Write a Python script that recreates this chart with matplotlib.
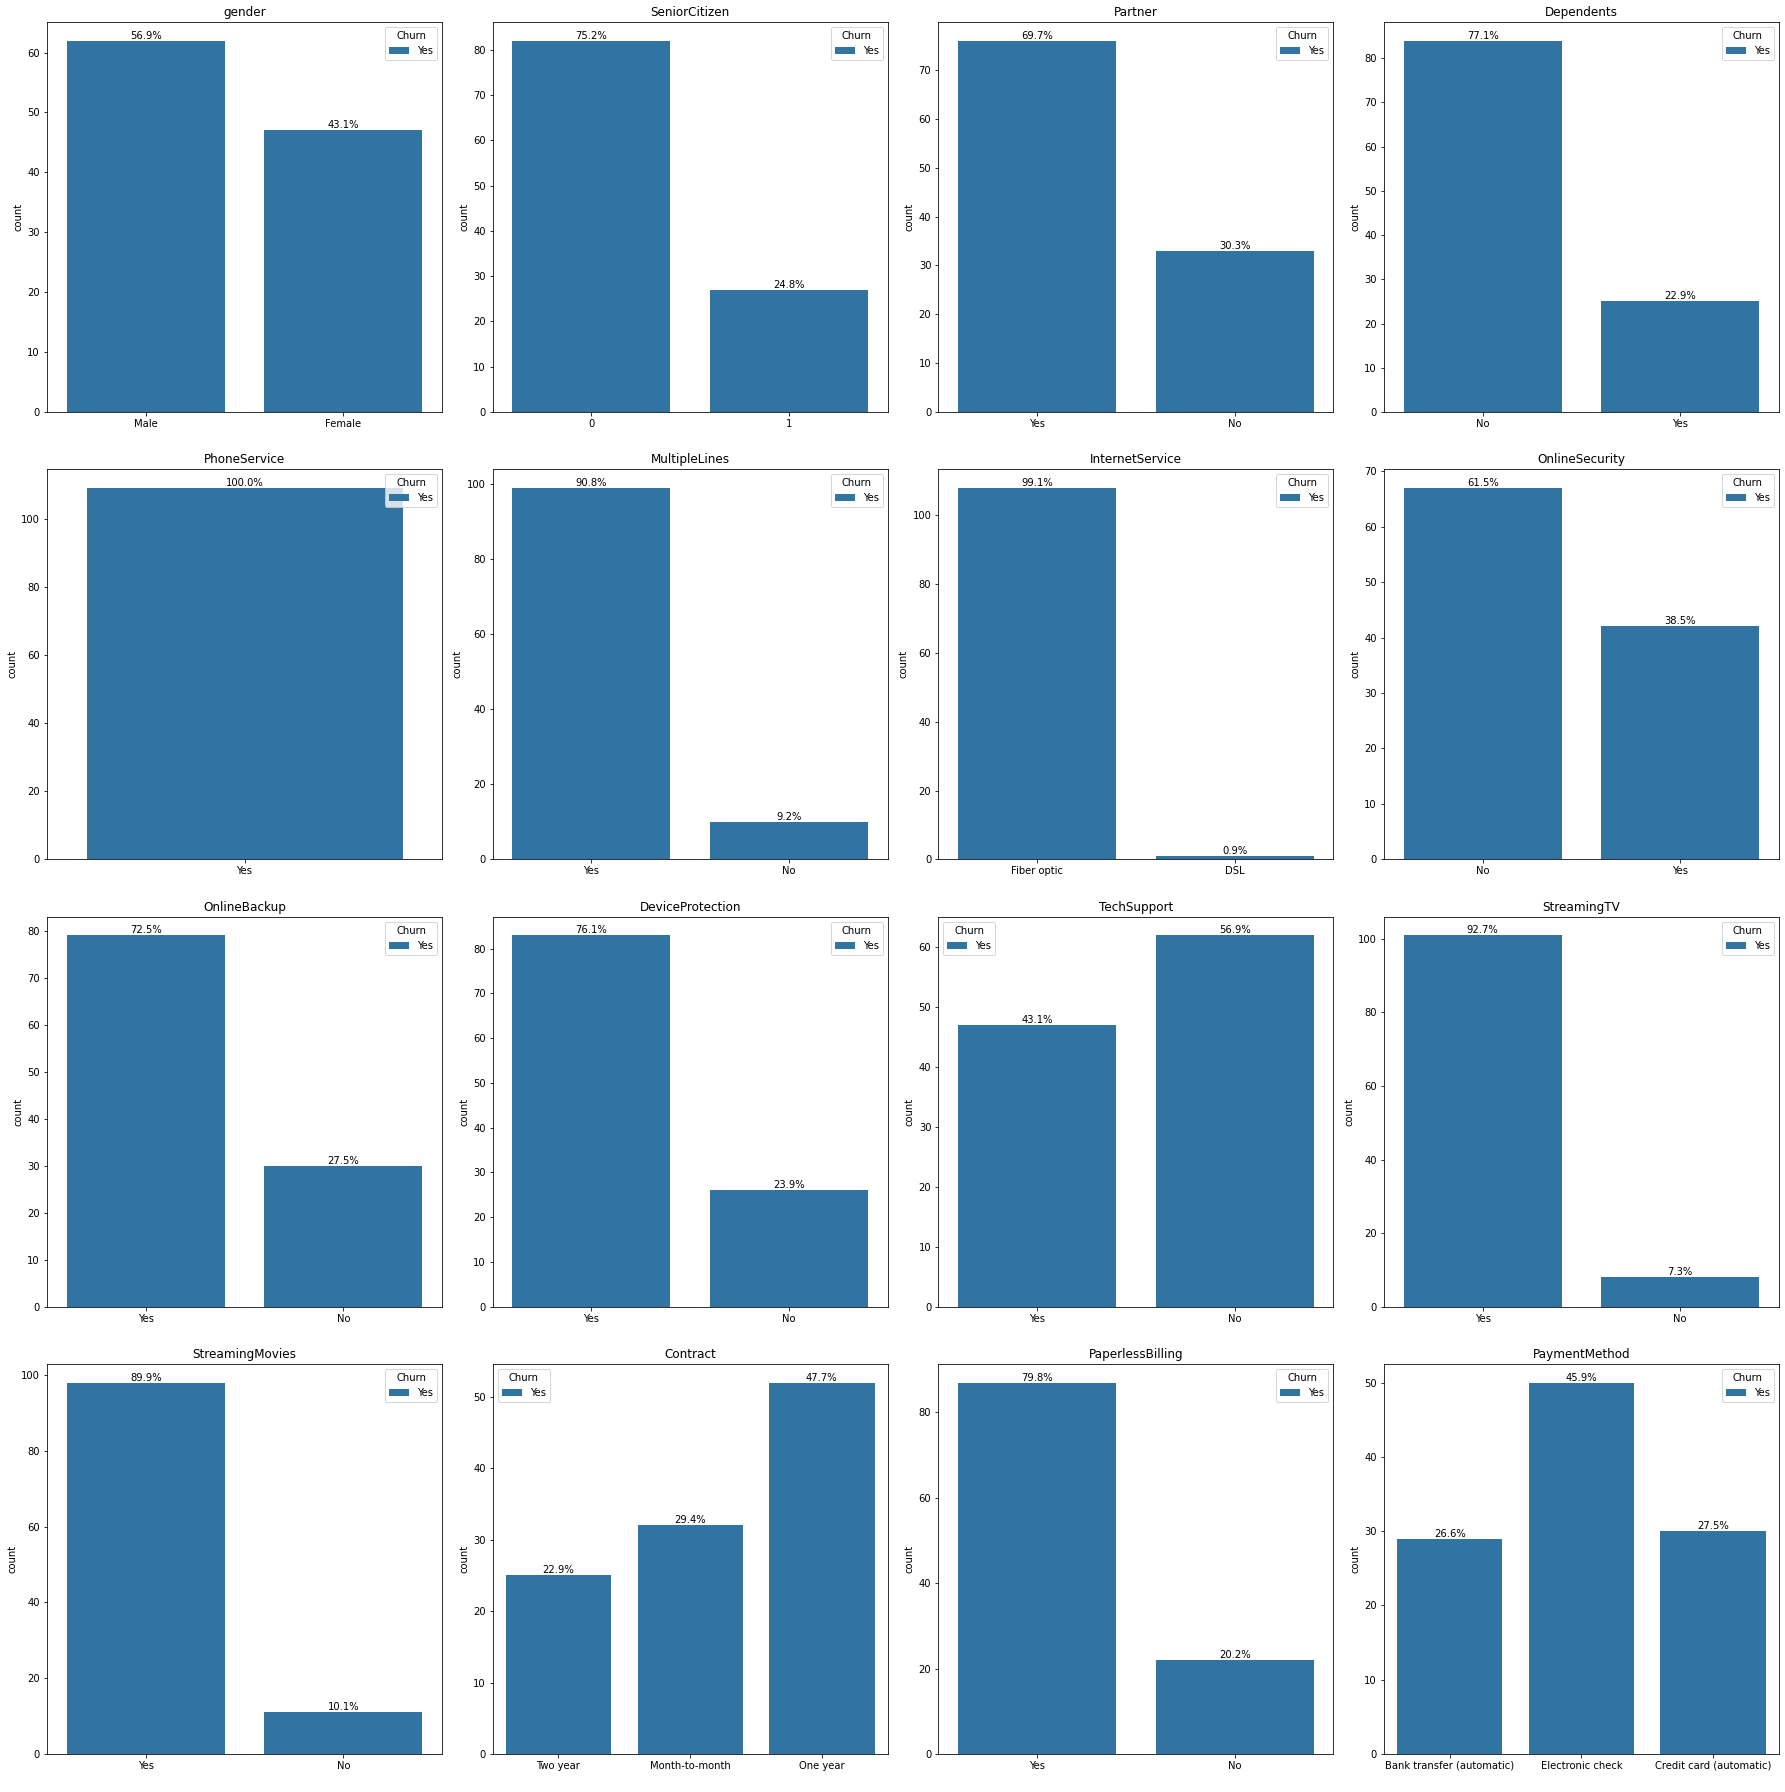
import matplotlib
matplotlib.use("Agg")
import matplotlib.pyplot as plt

titles = ["gender", "SeniorCitizen", "Partner", "Dependents",
          "PhoneService", "MultipleLines", "InternetService", "OnlineSecurity",
          "OnlineBackup", "DeviceProtection", "TechSupport", "StreamingTV",
          "StreamingMovies", "Contract", "PaperlessBilling", "PaymentMethod"]

gender_cats = ["Male", "Female"]
gender_counts = [62, 47]
senior_cats = ["0", "1"]
senior_counts = [82, 27]
partner_cats = ["Yes", "No"]
partner_counts = [76, 33]
dependents_cats = ["No", "Yes"]
dependents_counts = [84, 25]
phone_cats = ["Yes"]
phone_counts = [109]
multilines_cats = ["Yes", "No"]
multilines_counts = [99, 10]
internet_cats = ["Fiber optic", "DSL"]
internet_counts = [108, 1]
security_cats = ["No", "Yes"]
security_counts = [67, 42]
backup_cats = ["Yes", "No"]
backup_counts = [79, 30]
device_cats = ["Yes", "No"]
device_counts = [83, 26]
tech_cats = ["Yes", "No"]
tech_counts = [47, 62]
tv_cats = ["Yes", "No"]
tv_counts = [101, 8]
movies_cats = ["Yes", "No"]
movies_counts = [98, 11]
contract_cats = ["Two year", "Month-to-month", "One year"]
contract_counts = [25, 32, 52]
paperless_cats = ["Yes", "No"]
paperless_counts = [87, 22]
payment_cats = ["Bank transfer (automatic)", "Electronic check", "Credit card (automatic)"]
payment_counts = [29, 50, 30]

all_cats = [gender_cats, senior_cats, partner_cats, dependents_cats,
            phone_cats, multilines_cats, internet_cats, security_cats,
            backup_cats, device_cats, tech_cats, tv_cats,
            movies_cats, contract_cats, paperless_cats, payment_cats]
all_counts = [gender_counts, senior_counts, partner_counts, dependents_counts,
              phone_counts, multilines_counts, internet_counts, security_counts,
              backup_counts, device_counts, tech_counts, tv_counts,
              movies_counts, contract_counts, paperless_counts, payment_counts]

BAR = "#3274a1"

W, H = 1785, 1792
fig, axes = plt.subplots(4, 4, figsize=(W / 72, H / 72), dpi=72)
for ax, title, cats, counts in zip(axes.flat, titles, all_cats, all_counts):
    x = list(range(len(cats)))
    ax.bar(x, counts, width=0.8, color=BAR, label="Yes")
    ax.set_xticks(x)
    ax.set_xticklabels(cats)
    ax.set_xlim(-0.5, len(cats) - 0.5)
    ax.set_ylabel("count")
    ax.set_title(title)
    total = sum(counts)
    for xi, c in zip(x, counts):
        ax.text(xi, c, f"{100 * c / total:.1f}%", ha="center", va="bottom")
    ax.legend(title="Churn", loc="best")

fig.subplots_adjust(left=47 / W, right=1779 / W, top=1 - 22 / H, bottom=1 - 1754 / H,
                    wspace=0.128, hspace=0.147)
fig.savefig("out.png", dpi=72)
